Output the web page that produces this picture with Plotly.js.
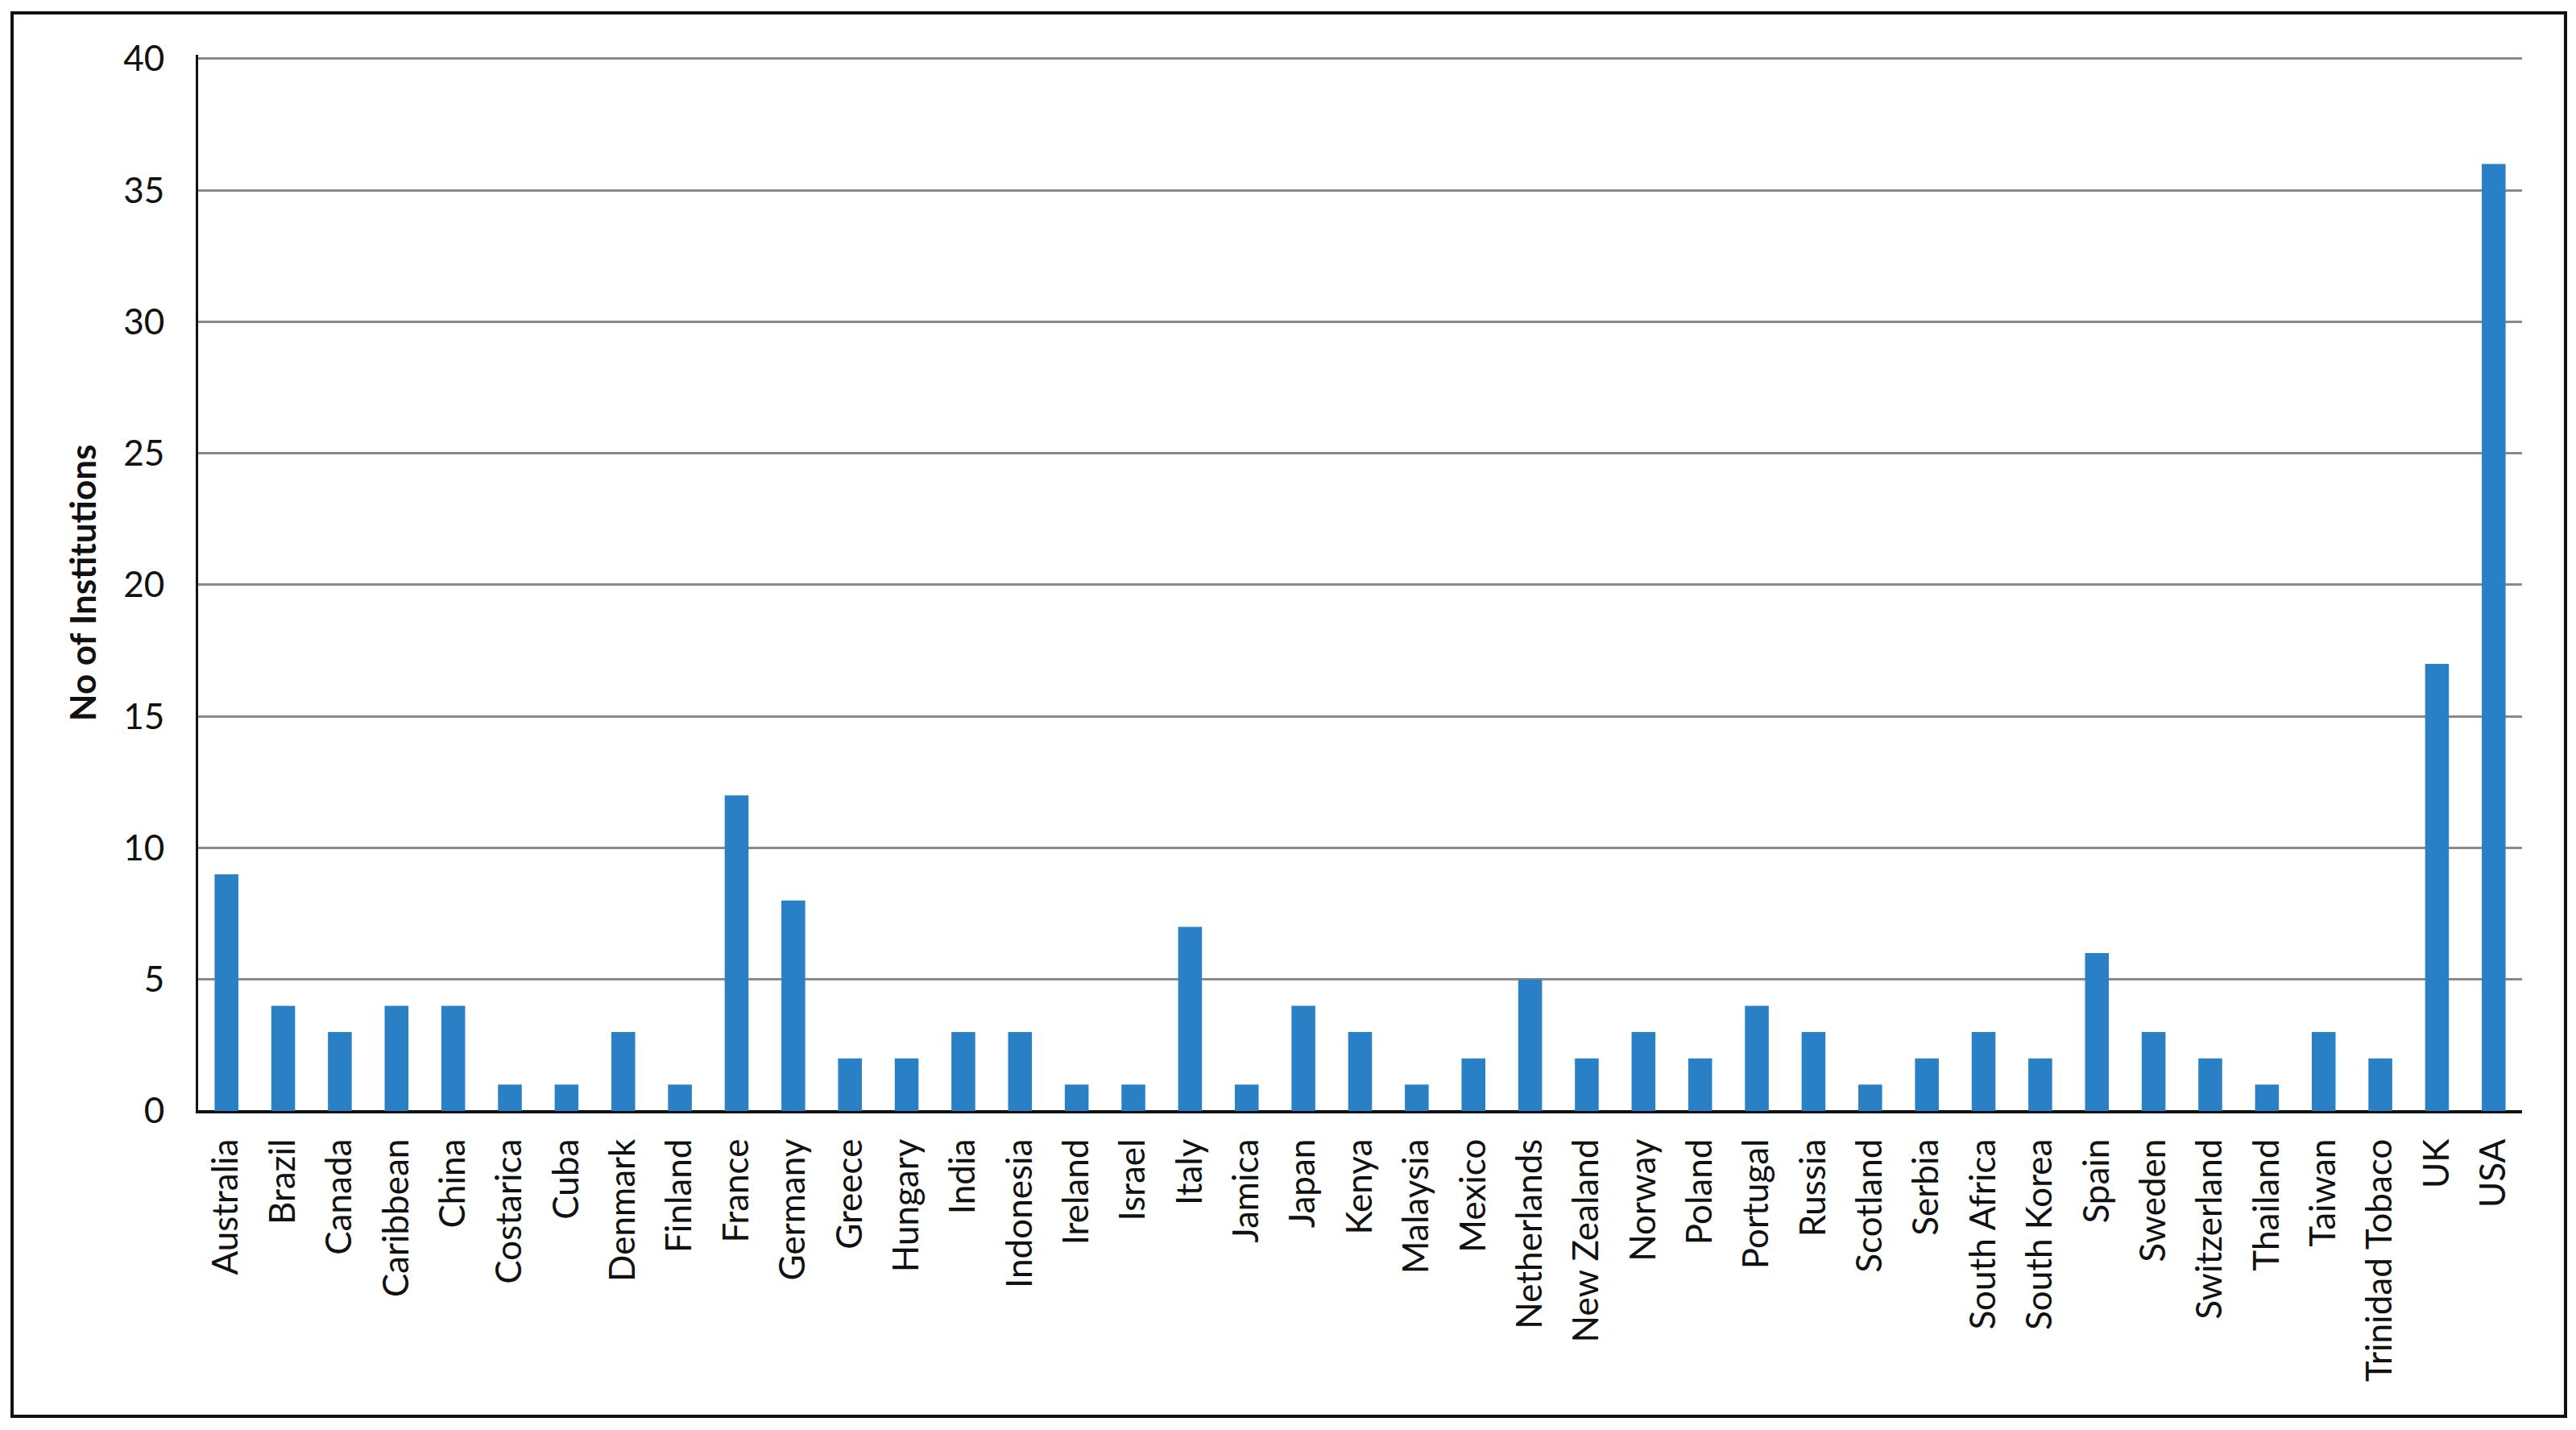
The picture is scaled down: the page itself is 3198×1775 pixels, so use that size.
<!DOCTYPE html>
<html>
<head>
<meta charset="utf-8">
<script src="https://cdn.plot.ly/plotly-3.0.1.min.js"></script>
<style>
  html, body { margin: 0; padding: 0; background: #fff; }
  #frame {
    position: absolute; left: 13px; top: 14px;
    width: 3174px; height: 1746px;
    border: 4px solid #111; box-sizing: border-box;
  }
  #plot { width: 3166px; height: 1738px; }
</style>
</head>
<body>
<div id="frame"><div id="plot"></div></div>
<script>
// countries on the x axis
var countries = ["Australia", "Brazil", "Canada", "Caribbean", "China", "Costarica", "Cuba",
  "Denmark", "Finland", "France", "Germany", "Greece", "Hungary", "India", "Indonesia",
  "Ireland", "Israel", "Italy", "Jamica", "Japan", "Kenya", "Malaysia", "Mexico",
  "Netherlands", "New Zealand", "Norway", "Poland", "Portugal", "Russia", "Scotland",
  "Serbia", "South Africa", "South Korea", "Spain", "Sweden", "Switzerland", "Thailand",
  "Taiwan", "Trinidad Tobaco", "UK", "USA"];
// number of institutions per country
var institutions = [9, 4, 3, 4, 4, 1, 1,
  3, 1, 12, 8, 2, 2, 3, 3,
  1, 1, 7, 1, 4, 3, 1, 2,
  5, 2, 3, 2, 4, 3, 1,
  2, 3, 2, 6, 3, 2, 1,
  3, 2, 17, 36];
var yTicks = [0, 5, 10, 15, 20, 25, 30, 35, 40];

var trace1 = {
  x: countries,
  y: institutions,
  type: "bar",
  marker: {color: "#2980c4"}
};

var layout = {
  width: 3166,
  height: 1738,
  margin: {l: 229, r: 52, t: 50, b: 377},
  paper_bgcolor: "#fff",
  plot_bgcolor: "#fff",
  bargap: 0.58,
  showlegend: false,
  font: {family: "Lato, 'Open Sans', sans-serif", size: 44, color: "#111"},
  xaxis: {
    type: "category",
    tickangle: -90,
    showgrid: false,
    showline: true,
    linecolor: "#111",
    linewidth: 3,
    ticks: "",
    ticklabelstandoff: 14,
    automargin: false
  },
  yaxis: {
    // a little headroom so the 40 gridline is drawn
    range: [0, 40.15],
    tickvals: yTicks,
    showgrid: true,
    gridcolor: "#8a8a8a",
    gridwidth: 3,
    zeroline: true,
    zerolinecolor: "#111",
    zerolinewidth: 3,
    showline: true,
    linecolor: "#111",
    linewidth: 3,
    ticks: "",
    ticklabelstandoff: 30,
    automargin: false,
    title: {text: "<b>No of Institutions</b>", standoff: 20, font: {size: 44}}
  }
};

Plotly.newPlot("plot", [trace1], layout, {staticPlot: true});
</script>
</body>
</html>
